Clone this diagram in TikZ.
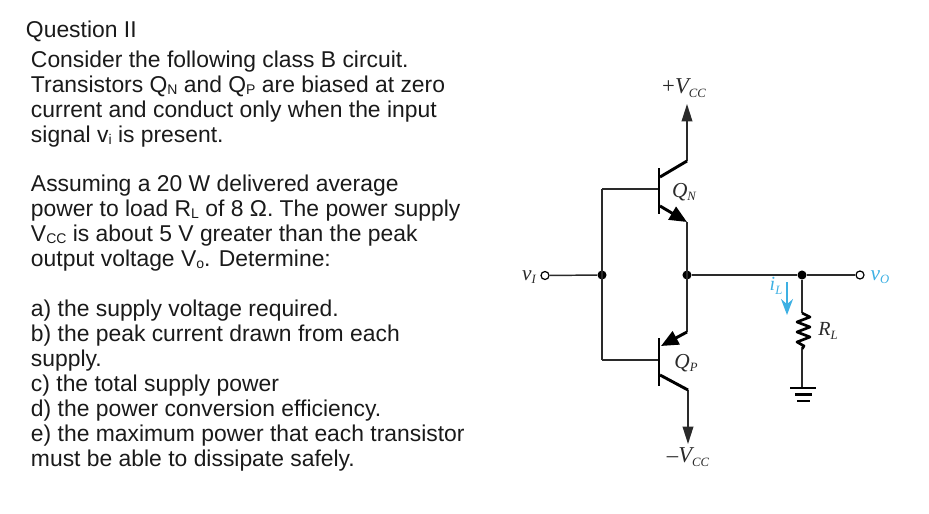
\documentclass[tikz,border=0pt]{standalone}
\usepackage{fontspec}
\setmainfont{Liberation Sans}
\newfontfamily\circfont{Liberation Serif}
\usetikzlibrary{arrows.meta}
\definecolor{txtc}{HTML}{1A1A1A}
\definecolor{wirec}{HTML}{2A2A2A}
\definecolor{bluec}{HTML}{3DB0E3}
\newcommand{\sbs}[1]{{\fontsize{10.5}{10.5}\selectfont\raisebox{-1.6pt}{#1}}}
\newcommand{\csub}[1]{{\fontsize{9.5}{9.5}\selectfont\raisebox{-2.5pt}{#1}}}
\tikzset{
  x=0.75pt,y=-0.75pt,
  qline/.style={anchor=base west,inner sep=0pt,outer sep=0pt,text=txtc,font=\fontsize{17.16}{19}\selectfont},
  clabel/.style={inner sep=0pt,text=wirec,font=\circfont\itshape\fontsize{12.5}{14}\selectfont},
  bluelabel/.style={clabel,text=bluec},
  wire/.style={draw=wirec,line width=1.1pt},
  heavy/.style={draw=black,line width=2.2pt},
  arrowtip/.style={-{Triangle[length=13pt,width=8pt]}},
  dotn/.style={circle,fill=black,inner sep=0pt,minimum size=6.8pt},
  termn/.style={circle,draw=black,fill=white,line width=0.9pt,inner sep=0pt,minimum size=6pt},
}
\begin{document}
\begin{tikzpicture}
\useasboundingbox (0,0) rectangle (929,514);
% text
\node[qline] (t0) at (26,37.5) {Question II};
\node[qline] (t1) at (31,67) {Consider the following class B circuit.};
\node[qline] (t2) at (31,92) {Transistors Q\sbs{N} and Q\sbs{P} are biased at zero};
\node[qline] (t3) at (31,117) {current and conduct only when the input};
\node[qline] (t4) at (31,142) {signal v\sbs{i} is present.};
\node[qline] (t5) at (31,191) {Assuming a 20 W delivered average};
\node[qline] (t6) at (31,216) {power to load R\sbs{L} of 8 Ω. The power supply};
\node[qline] (t7) at (31,241) {V\sbs{CC} is about 5 V greater than the peak};
\node[qline] (t8) at (31,266) {output voltage V\sbs{o}. Determine:};
\node[qline] (t9) at (31,316) {a) the supply voltage required.};
\node[qline] (t10) at (31,341) {b) the peak current drawn from each};
\node[qline] (t11) at (31,366) {supply.};
\node[qline] (t12) at (31,391) {c) the total supply power};
\node[qline] (t13) at (31,416) {d) the power conversion efficiency.};
\node[qline] (t14) at (31,441) {e) the maximum power that each transistor};
\node[qline] (t15) at (31,466) {must be able to dissipate safely.};
% coordinates
\coordinate (vccTip) at (687,104);
\coordinate (qnC) at (687,161);
\coordinate (qnCb) at (660,177);
\coordinate (qnB) at (659,189);
\coordinate (qnEb) at (660,206);
\coordinate (qnE) at (687,222);
\coordinate (qpE) at (687,332);
\coordinate (qpEb) at (661,346);
\coordinate (qpB) at (659,360);
\coordinate (qpCb) at (660,375);
\coordinate (qpC) at (688,390);
\coordinate (vccnTip) at (688,444);
\coordinate (rTop) at (802,313);
\coordinate (rBot) at (802,349);
\coordinate (gnd) at (802,388);
\coordinate (baseCorner1) at (602,189);
\coordinate (baseCorner2) at (602,360);
% junctions and terminals
\node[dotn] (jIn) at (602,275) {};
\node[dotn] (jOut) at (687,275) {};
\node[dotn] (jLoad) at (802,275) {};
\node[termn] (vi) at (545,275.5) {};
\node[termn] (vo) at (860,275) {};
% wires
\draw[wire] (vi) -- (jIn);
\draw[wire] (baseCorner1) -- (baseCorner2);
\draw[wire] (baseCorner1) -- (qnB);
\draw[wire] (baseCorner2) -- (qpB);
\draw[wire] (jOut) -- (jLoad) -- (vo);
\draw[wire,arrowtip] (qnC) -- (vccTip);
\draw[wire] (qnE) -- (qpE);
\draw[wire,arrowtip] (qpC) -- (vccnTip);
\draw[wire] (jLoad) -- (rTop);
\draw[wire] (rBot) -- (gnd);
% transistors
\draw[heavy] (659,168) -- (659,214);
\draw[heavy] (qnCb) -- (qnC);
\draw[heavy,-{Triangle[length=13pt,width=11pt]}] (qnEb) -- (qnE);
\draw[heavy] (659,338) -- (659,386);
\draw[heavy,-{Triangle[length=13pt,width=11pt]}] (qpE) -- (qpEb);
\draw[heavy] (qpCb) -- (qpC);
% resistor
\draw[draw=black,line width=2pt,line join=round] (rTop) -- (810,317) -- (797,322) -- (810,327) -- (797,332) -- (810,337) -- (797,342) -- (804,346) -- (rBot);
% ground
\draw[draw=black,line width=2.2pt] (790,388) -- (816,388);
\draw[draw=black,line width=2.2pt] (795,394.5) -- (812,394.5);
\draw[draw=black,line width=2.2pt] (797,401) -- (810,401);
% blue arrow
\coordinate (iTop) at (787,282);
\coordinate (iTip) at (787,315);
\draw[draw=bluec,line width=1.5pt,-{Stealth[length=12pt,width=9pt]}] (iTop) -- (iTip);
% labels
\node[clabel] (lvcc) at (684,88) {\fontsize{17}{17}\selectfont\upshape +\itshape V\csub{CC}};
\node[clabel] (lvee) at (688,457) {\fontsize{17}{17}\selectfont\upshape –\itshape V\csub{CC}};
\node[clabel] (lqn) at (684,192) {\fontsize{16}{16}\selectfont Q\csub{N}};
\node[clabel] (lqp) at (686,363) {\fontsize{16}{16}\selectfont Q\csub{P}};
\node[clabel] (lrl) at (828,331) {\fontsize{15}{15}\selectfont R\csub{L}};
\node[clabel] (lvi) at (529,277) {\fontsize{16}{16}\selectfont v\csub{I}};
\node[bluelabel] (lvo) at (880,277) {\fontsize{16}{16}\selectfont v\csub{O}};
\node[bluelabel] (lil) at (776,286) {\fontsize{15}{15}\selectfont i\csub{L}};
\end{tikzpicture}
\end{document}
